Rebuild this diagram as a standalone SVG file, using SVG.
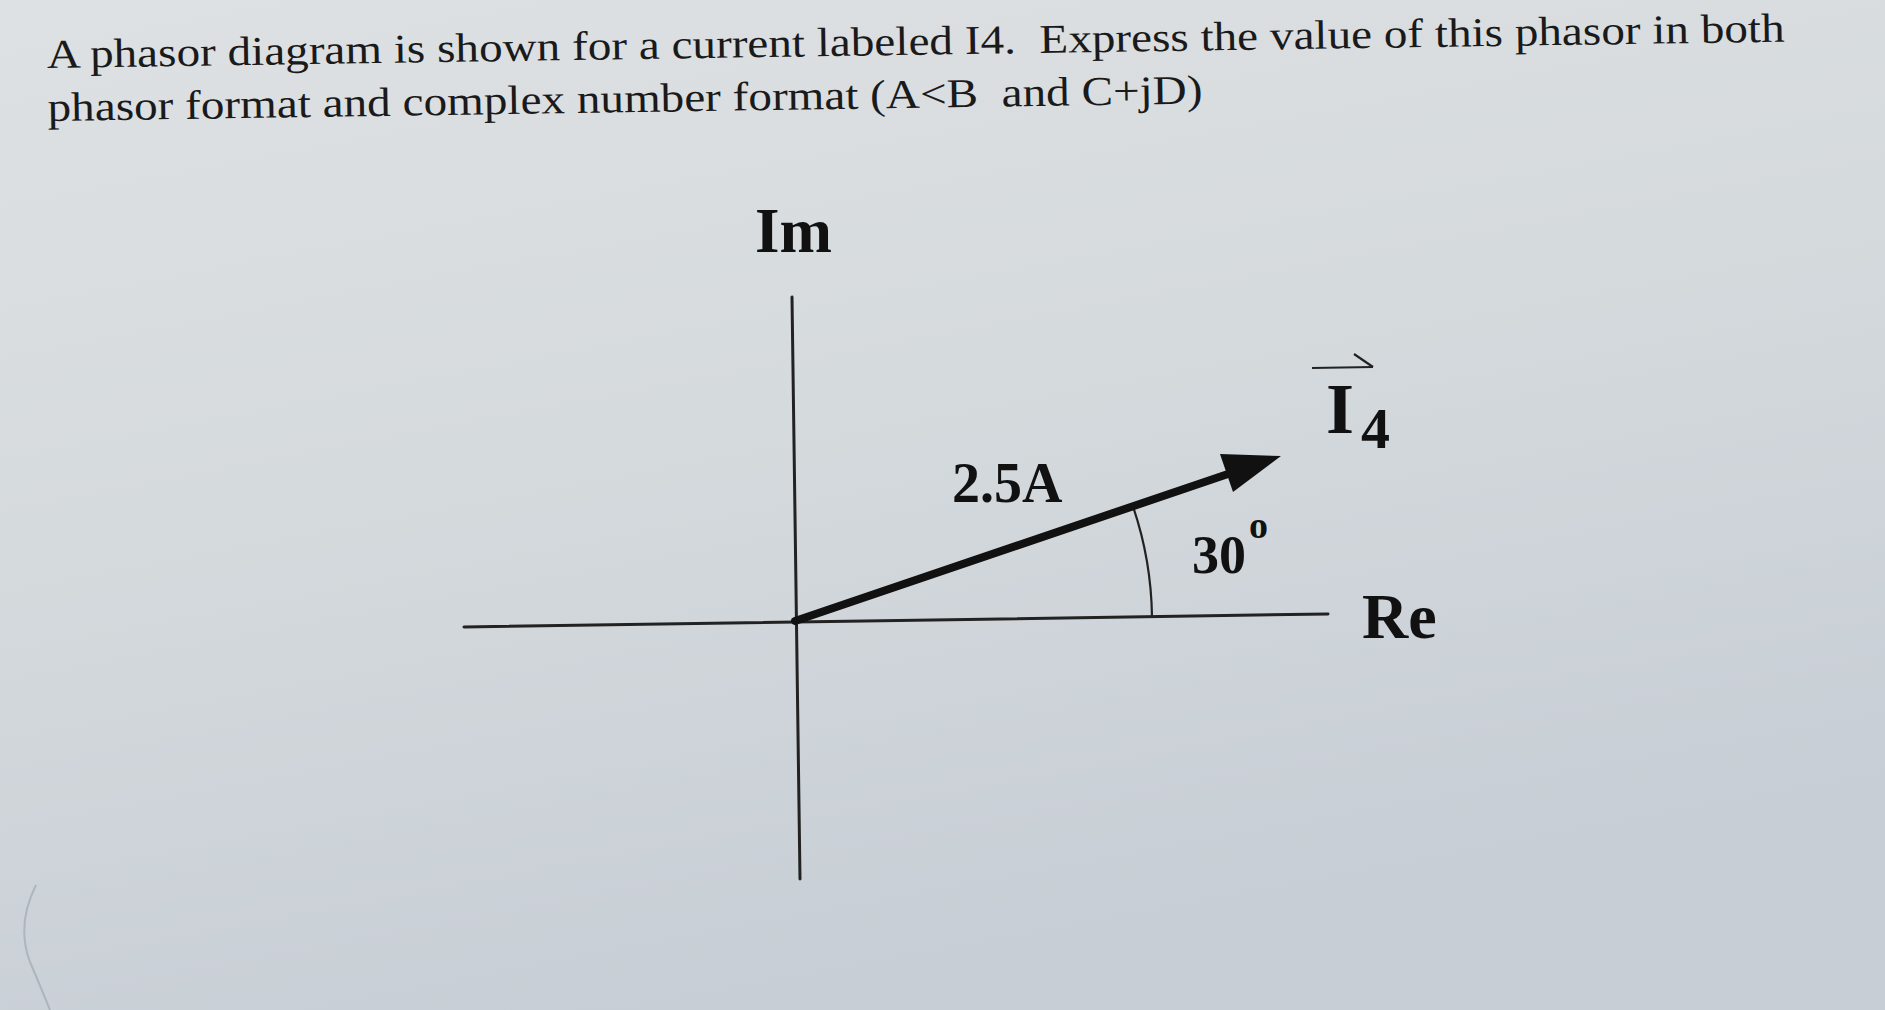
<svg xmlns="http://www.w3.org/2000/svg" width="1885" height="1010" viewBox="0 0 1885 1010">
  <defs>
    <linearGradient id="bg" x1="0" y1="0" x2="0.35" y2="1">
      <stop offset="0" stop-color="#dee1e3"/>
      <stop offset="0.5" stop-color="#d5dadd"/>
      <stop offset="1" stop-color="#c7ced5"/>
    </linearGradient>
    <style>
      .title { font-family: "Liberation Serif", "Times New Roman", serif; font-size: 41px; fill: #1a1a1a; }
      .lbl { font-family: "Liberation Serif", "Times New Roman", serif; font-weight: bold; fill: #111; }
      .axis { stroke: #222; stroke-width: 3; fill: none; stroke-linecap: round; }
      .thin { stroke: #222; stroke-width: 2.2; fill: none; }
      .phasor { stroke: #111; stroke-width: 8; fill: none; stroke-linecap: round; }
    </style>
  </defs>
  <rect width="1885" height="1010" fill="url(#bg)"/>
  <path d="M 36 885 Q 16 925 30 962 Q 42 990 50 1010" stroke="#9aa3ab" stroke-width="2" fill="none" opacity="0.6"/>

  <g id="question" transform="rotate(-0.87 47 70)">
    <text class="title" x="47" y="68" xml:space="preserve" textLength="1738" lengthAdjust="spacingAndGlyphs">A phasor diagram is shown for a current labeled I4.  Express the value of this phasor in both</text>
    <text class="title" x="47" y="121" xml:space="preserve" textLength="1155" lengthAdjust="spacingAndGlyphs">phasor format and complex number format (A&lt;B  and C+jD)</text>
  </g>

  <g id="connectors">
    <line id="im-axis" class="axis" x1="792" y1="297" x2="800" y2="879"/>
    <line id="re-axis" class="axis" x1="464" y1="627" x2="1328" y2="614"/>
    <path id="angle-arc" class="thin" d="M 1133 506.5 A 357 357 0 0 1 1152 617"/>
    <line id="phasor-line" class="phasor" x1="795" y1="621" x2="1228" y2="474"/>
    <polygon id="phasor-head" points="1220,454 1281,456 1233,492" fill="#111"/>
  </g>

  <g id="label-im">
    <text class="lbl" x="755" y="252" font-size="63">Im</text>
  </g>
  <g id="label-re">
    <text class="lbl" x="1362" y="638" font-size="64">Re</text>
  </g>
  <g id="label-magnitude">
    <text class="lbl" x="952" y="502" font-size="56">2.5A</text>
  </g>
  <g id="label-angle">
    <text class="lbl" x="1192" y="573" font-size="54">30</text>
    <text class="lbl" x="1249" y="538" font-size="38">o</text>
  </g>
  <g id="label-i4">
    <text class="lbl" x="1326" y="433" font-size="72">I</text>
    <text class="lbl" x="1361" y="448" font-size="58" font-family="Liberation Sans, Arial, sans-serif">4</text>
    <line class="thin" x1="1312" y1="368" x2="1373" y2="367" stroke-width="3"/>
    <line class="thin" x1="1354" y1="354" x2="1373" y2="367" stroke-width="3"/>
  </g>
</svg>
